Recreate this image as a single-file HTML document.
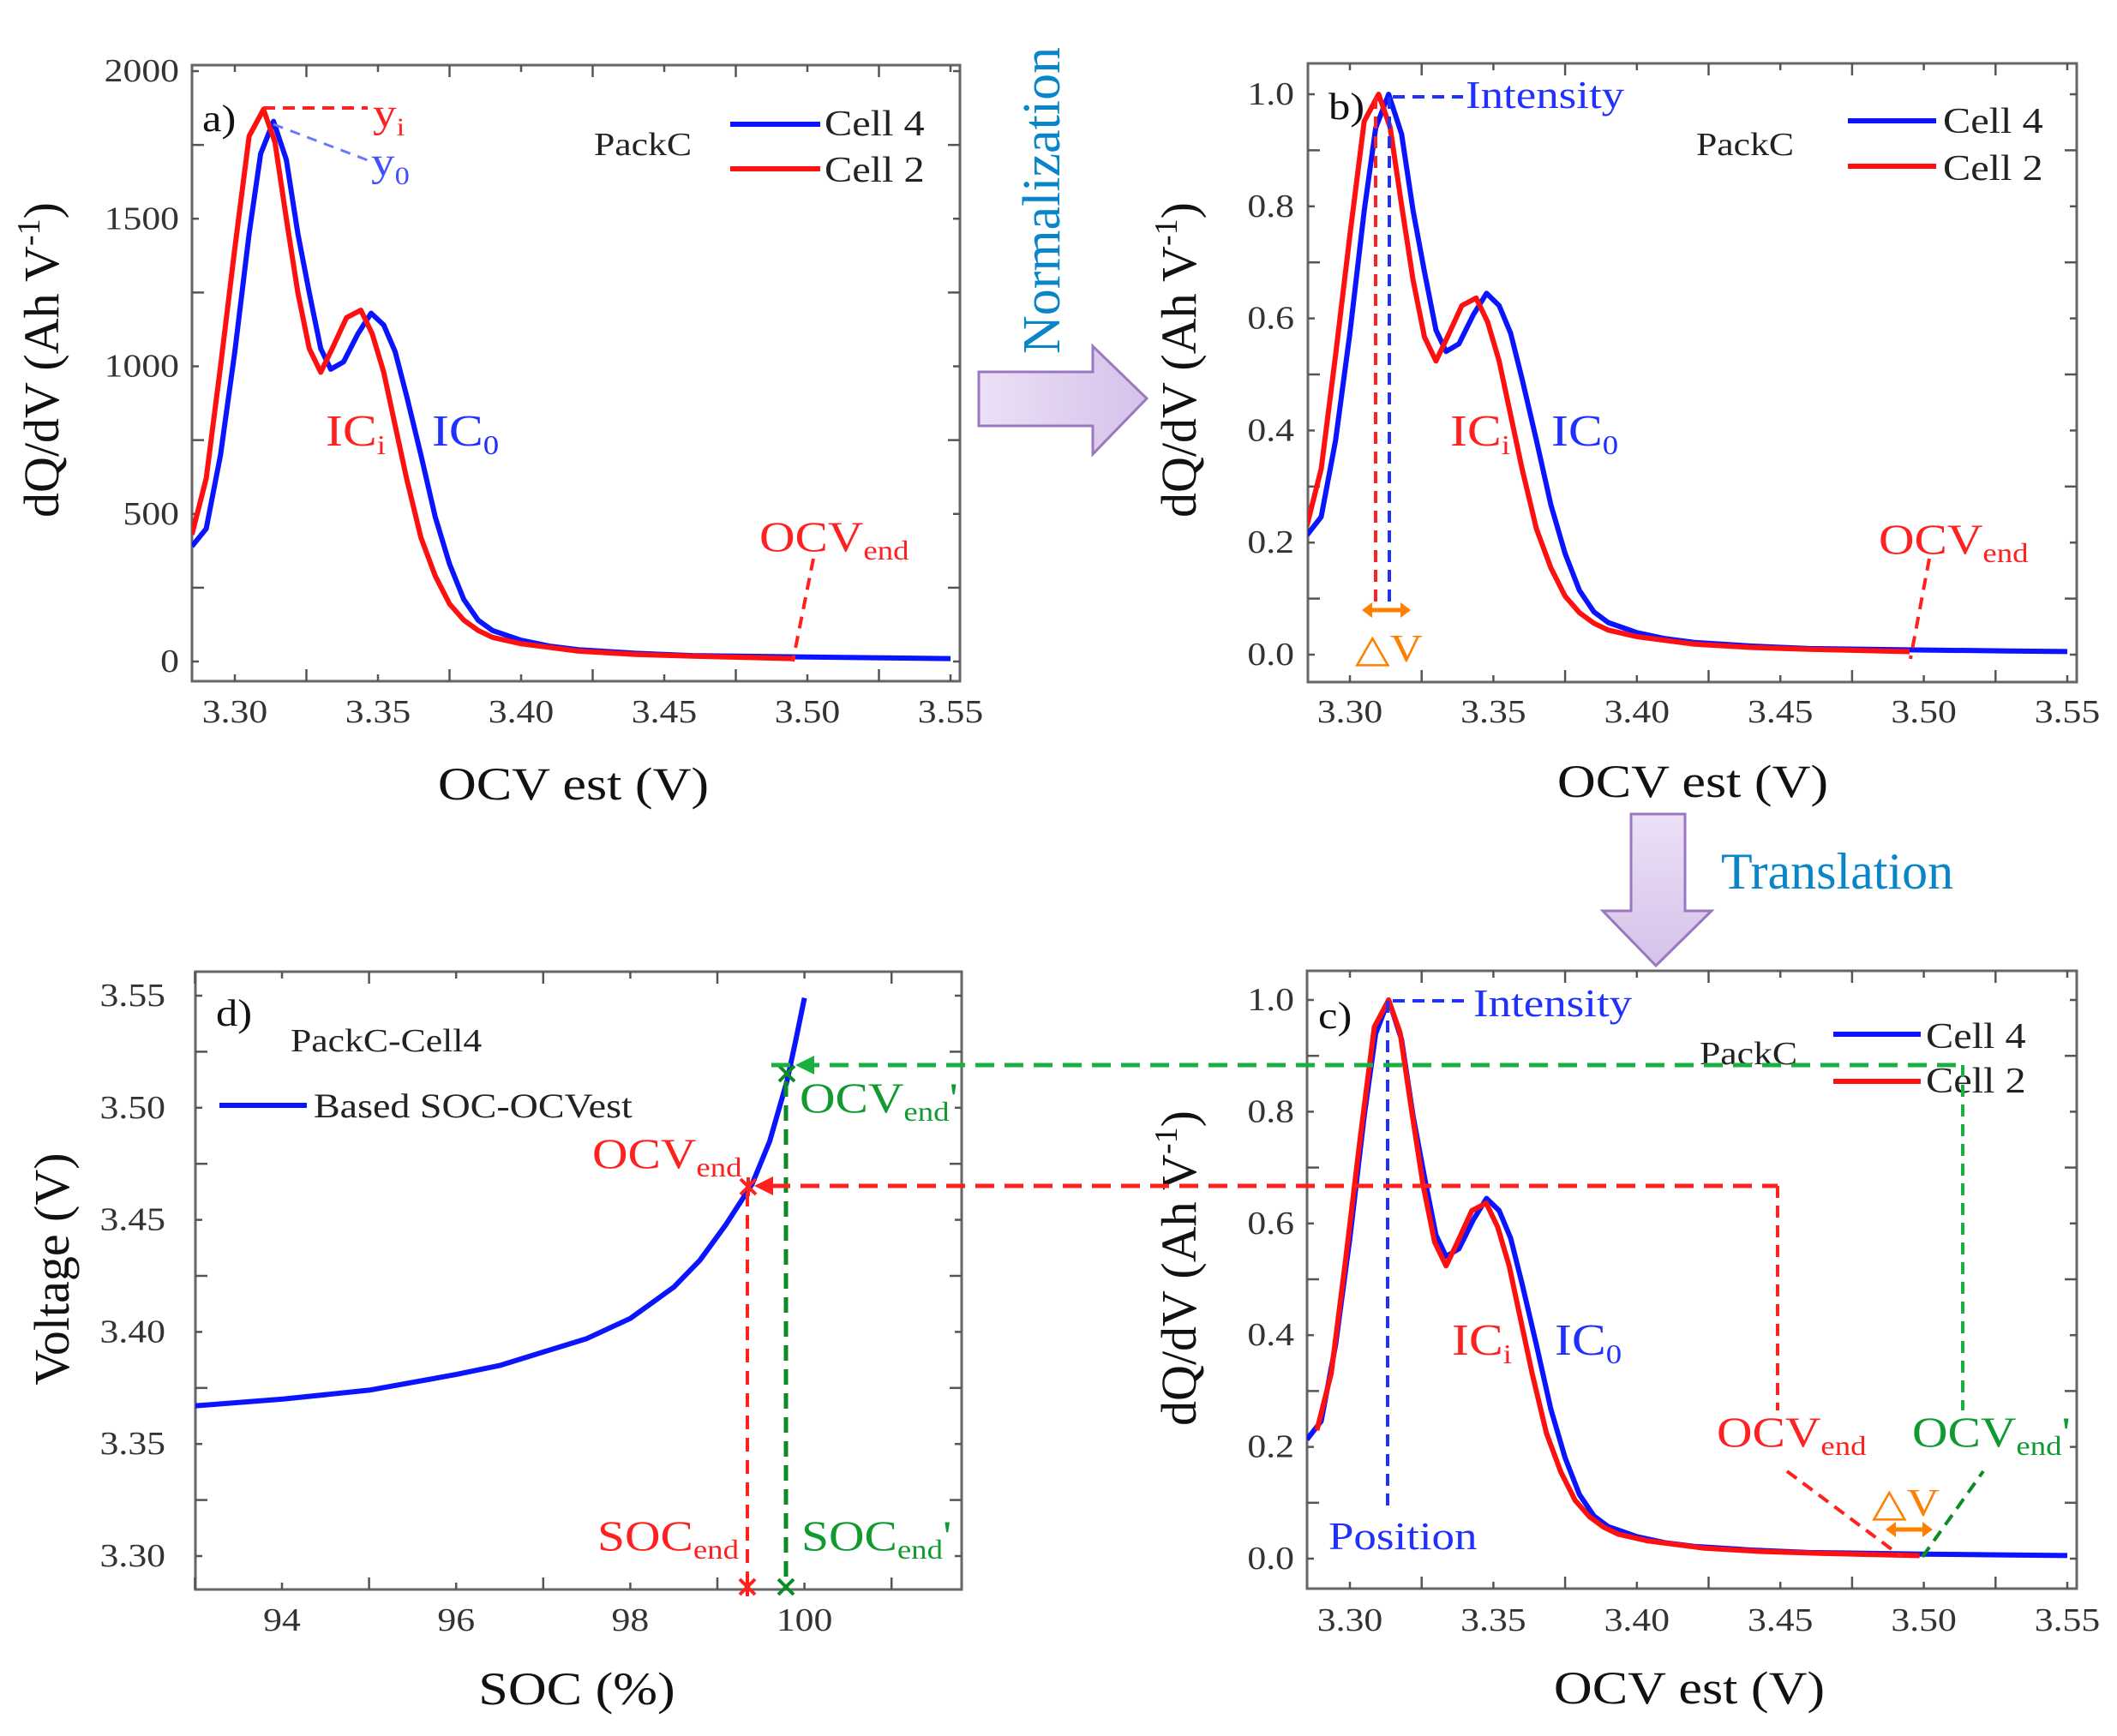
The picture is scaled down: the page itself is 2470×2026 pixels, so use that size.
<!DOCTYPE html>
<html><head><meta charset="utf-8"><style>
html,body{margin:0;padding:0;background:#fff;}
svg{display:block;}
text,tspan{font-family:"Liberation Serif","Times New Roman",serif;}
</style></head><body>
<svg id="s" xmlns="http://www.w3.org/2000/svg" width="2470" height="2026" viewBox="0 0 2470 2026" font-family="Liberation Serif, serif">
<defs>
<linearGradient id="ag" x1="0" y1="0" x2="0" y2="1"><stop offset="0" stop-color="#ece0f6"/><stop offset="1" stop-color="#d6c2ea"/></linearGradient>
<linearGradient id="ag2" x1="0" y1="0" x2="1" y2="0"><stop offset="0" stop-color="#ece0f6"/><stop offset="1" stop-color="#d6c2ea"/></linearGradient>
</defs>
<rect width="2470" height="2026" fill="#fff"/>
<g id="g"></g>
</svg>
<script>
var out=[];
function P(s){out.push(s);}
var SX=1.15;
var FF=' font-family="Liberation Serif, serif"';
function T(x,y,str,size,fill,anchor,opt){opt=opt||{};
  P('<text'+FF+' transform="translate('+x+','+y+') scale('+(opt.sx||SX)+',1)" font-size="'+size+'" fill="'+(fill||'#000')+'" text-anchor="'+(anchor||'start')+'"'+(opt.w?' font-weight="'+opt.w+'"':'')+'>'+str+'</text>');}
function sub(s,sz){return '<tspan font-size="'+sz+'" dy="10">'+s+'</tspan>';}
function L(x1,y1,x2,y2,c,w,d){P('<line x1="'+x1+'" y1="'+y1+'" x2="'+x2+'" y2="'+y2+'" stroke="'+c+'" stroke-width="'+w+'"'+(d?' stroke-dasharray="'+d+'"':'')+'/>');}
function path(pts,c,w,clip){var s='M'+pts.map(function(p){return p[0].toFixed(1)+','+p[1].toFixed(1)}).join('L');
  P('<path d="'+s+'" fill="none" stroke="'+c+'" stroke-width="'+w+'" stroke-linejoin="round"'+(clip?' clip-path="url(#'+clip+')"':'')+'/>');}

var blue=[[3.285,390],[3.29,450],[3.295,700],[3.30,1050],[3.305,1450],[3.309,1720],[3.3135,1830],[3.318,1700],[3.322,1450],[3.326,1250],[3.33,1060],[3.3335,990],[3.338,1015],[3.343,1110],[3.3476,1180],[3.352,1140],[3.356,1050],[3.36,900],[3.365,700],[3.37,490],[3.375,330],[3.38,210],[3.385,140],[3.39,105],[3.40,72],[3.41,52],[3.42,40],[3.44,28],[3.46,20],[3.50,15],[3.53,12],[3.55,10]];
var red=[[3.285,430],[3.29,620],[3.295,1000],[3.30,1400],[3.305,1780],[3.31,1870],[3.314,1760],[3.318,1500],[3.322,1250],[3.326,1060],[3.33,980],[3.334,1060],[3.339,1165],[3.344,1190],[3.348,1110],[3.352,980],[3.356,800],[3.36,620],[3.365,420],[3.37,290],[3.375,195],[3.38,140],[3.385,105],[3.39,82],[3.40,60],[3.42,35],[3.44,24],[3.46,18],[3.495,10]];

function frame(l,t,r,b,id){P('<clipPath id="'+id+'"><rect x="'+l+'" y="'+t+'" width="'+(r-l)+'" height="'+(b-t)+'"/></clipPath>');
  P('<rect x="'+l+'" y="'+t+'" width="'+(r-l)+'" height="'+(b-t)+'" fill="none" stroke="#666" stroke-width="3"/>');}
function xticks(l,t,r,b,fx,v0,v1,step,nminor,labels,lblY){
  for(var v=v0;v<=v1+1e-9;v+=step/nminor){var x=fx(v);if(x<l-1||x>r+1)continue;
    var k=Math.round((v-v0)/(step/nminor));var maj=(k%nminor===0);var len=maj?14:8;
    L(x,b,x,b-len,'#555',2.5);L(x,t,x,t+len,'#555',2.5);}
  labels.forEach(function(a){T(fx(a[0]),lblY,a[1],38,'#333','middle');});}
function yticks(l,t,r,b,fy,v0,v1,step,nminor,labels,lblX){
  for(var v=v0;v<=v1+1e-9;v+=step/nminor){var y=fy(v);if(y<t-1||y>b+1)continue;
    var k=Math.round((v-v0)/(step/nminor));var maj=(k%nminor===0);var len=maj?14:8;
    L(l,y,l+len,y,'#555',2.5);L(r,y,r-len,y,'#555',2.5);}
  labels.forEach(function(a){T(lblX,fy(a[0])+12,a[1],38,'#333','end');});}
function ytitle(x,y,html,size){P('<text'+FF+' transform="translate('+x+','+y+') rotate(-90)" font-size="'+size+'" text-anchor="middle" fill="#111">'+html+'</text>');}
var xl=[[3.30,'3.30'],[3.35,'3.35'],[3.40,'3.40'],[3.45,'3.45'],[3.50,'3.50'],[3.55,'3.55']];
var dqdv='dQ/dV (Ah V<tspan font-size="38" dy="-22">-1</tspan><tspan dy="22">)</tspan>';
var LW=6;

// ---------- Panel a
(function(){
var l=224,t=76,r=1120,b=795;
var fx=function(v){return 274+(v-3.30)/0.05*167;}, fy=function(q){return 772-q*0.3445;};
frame(l,t,r,b,'ca');
xticks(l,t,r,b,fx,3.275,3.575,0.05,2,xl,843);
yticks(l,t,r,b,fy,-250,2250,500,2,[[0,'0'],[500,'500'],[1000,'1000'],[1500,'1500'],[2000,'2000']],209);
path(blue.map(function(p){return [fx(p[0]),fy(p[1])]}),'#0a14ff',LW,'ca');
path(red.map(function(p){return [fx(p[0]),fy(p[1])]}),'#ff1010',LW,'ca');
T(236,153,'a)',44,'#111');
L(307,126,429,126,'#ff2020',4,'14,9');
T(435,148,'y'+sub('i',30),48,'#ff2020');
L(319,145,429,187,'#6a78ff',3,'12,9');
T(433,205,'y'+sub('0',30),48,'#4050ff');
T(693,181,'PackC',38,'#222');
L(852,145,957,145,'#0a14ff',LW);T(962,158,'Cell 4',42,'#222');
L(852,197,957,197,'#ff1010',LW);T(962,212,'Cell 2',42,'#222');
T(380,520,'IC'+sub('i',32),52,'#ff2020');
T(504,520,'IC'+sub('0',32),52,'#2030ff');
T(886,643,'OCV'+sub('end',32),50,'#ff2020');
L(949,652,925,772,'#ff2020',4,'14,9');
T(669,933,'OCV est (V)',54,'#111','middle');
ytitle(68,420,dqdv,58);
})();

// ---------- Panel b
(function(){
var l=1526,t=74,r=2423,b=796;
var fx=function(v){return 1575+(v-3.30)/0.05*167.4;}, fy=function(q){return 764-q*654;};
frame(l,t,r,b,'cb');
xticks(l,t,r,b,fx,3.275,3.575,0.05,2,xl,843);
yticks(l,t,r,b,fy,-0.1,1.1,0.2,2,[[0,'0.0'],[0.2,'0.2'],[0.4,'0.4'],[0.6,'0.6'],[0.8,'0.8'],[1.0,'1.0']],1510);
path(blue.map(function(p){return [fx(p[0]),fy(p[1]/1830)]}),'#0a14ff',LW,'cb');
path(red.map(function(p){return [fx(p[0]),fy(p[1]/1870)]}),'#ff1010',LW,'cb');
T(1550,139,'b)',44,'#111');
L(1625,113,1707,113,'#2030ff',4,'14,9');
T(1710,126,'Intensity',46,'#2030ff');
L(1605,113,1605,704,'#ff2020',4,'14,9');
L(1621,113,1621,704,'#2030ff',4,'14,9');
L(1596,712,1638,712,'#ff8000',5);
P('<path d="M1589,712 l12,-9 v18 z M1646,712 l-12,-9 v18 z" fill="#ff8000"/>');
T(1581,772,'△V',46,'#ff8000');
T(1979,181,'PackC',38,'#222');
L(2156,141,2259,141,'#0a14ff',LW);T(2267,155,'Cell 4',42,'#222');
L(2156,194,2259,194,'#ff1010',LW);T(2267,210,'Cell 2',42,'#222');
T(1692,520,'IC'+sub('i',32),52,'#ff2020');
T(1810,520,'IC'+sub('0',32),52,'#2030ff');
T(2192,646,'OCV'+sub('end',32),50,'#ff2020');
L(2251,652,2229,769,'#ff2020',4,'14,9');
T(1975,930,'OCV est (V)',54,'#111','middle');
ytitle(1395,420,dqdv,58);
})();

// ---------- Panel c
(function(){
var l=1525,t=1133,r=2423,b=1854;
var fx=function(v){return 1575+(v-3.30)/0.05*167.4;}, fy=function(q){return 1819-q*652;};
frame(l,t,r,b,'cc');
xticks(l,t,r,b,fx,3.275,3.575,0.05,2,xl,1903);
yticks(l,t,r,b,fy,-0.1,1.1,0.2,2,[[0,'0.0'],[0.2,'0.2'],[0.4,'0.4'],[0.6,'0.6'],[0.8,'0.8'],[1.0,'1.0']],1510);
path(blue.map(function(p){return [fx(p[0]),fy(p[1]/1830)]}),'#0a14ff',LW,'cc');
path(red.map(function(p){return [fx(p[0]+0.0035),fy(p[1]/1870)]}),'#ff1010',LW,'cc');
T(1538,1200,'c)',44,'#111');
L(1625,1168,1715,1168,'#2030ff',4,'14,9');
T(1719,1186,'Intensity',46,'#2030ff');
L(1619,1168,1619,1759,'#2030ff',4,'14,9');
T(1550,1808,'Position',46,'#2030ff');
T(1983,1242,'PackC',38,'#222');
L(2139,1207,2241,1207,'#0a14ff',LW);T(2247,1223,'Cell 4',42,'#222');
L(2139,1262,2241,1262,'#ff1010',LW);T(2247,1275,'Cell 2',42,'#222');
T(1694,1581,'IC'+sub('i',32),52,'#ff2020');
T(1814,1581,'IC'+sub('0',32),52,'#2030ff');
T(2003,1688,'OCV'+sub('end',32),50,'#ff2020');
T(2231,1688,"OCV"+sub('end',32)+"<tspan dy='-10'>'</tspan>",50,'#109a30');
L(2085,1717,2219,1817,'#ff2020',4,'14,9');
L(2243,1817,2314,1717,'#0b8c23',4,'14,9');
L(2207,1785,2248,1785,'#ff8000',5);
P('<path d="M2200,1785 l12,-9 v18 z M2255,1785 l-12,-9 v18 z" fill="#ff8000"/>');
T(2184,1769,'△V',46,'#ff8000');
T(1971,1988,'OCV est (V)',54,'#111','middle');
ytitle(1395,1480,dqdv,58);
})();

// ---------- Panel d
(function(){
var l=228,t=1134,r=1122,b=1855;
var fx=function(s){return 329+(s-94)*101.6;}, fy=function(v){return 1816-(v-3.30)/0.05*130.8;};
frame(l,t,r,b,'cd');
xticks(l,t,r,b,fx,93,102,2,2,[[94,'94'],[96,'96'],[98,'98'],[100,'100']],1903);
yticks(l,t,r,b,fy,3.275,3.575,0.05,2,[[3.30,'3.30'],[3.35,'3.35'],[3.40,'3.40'],[3.45,'3.45'],[3.50,'3.50'],[3.55,'3.55']],193);
var d=[[93,3.367],[94,3.370],[95,3.374],[96,3.381],[96.5,3.385],[97,3.391],[97.5,3.397],[98,3.406],[98.5,3.420],[98.8,3.432],[99.1,3.448],[99.4,3.466],[99.6,3.485],[99.8,3.512],[99.9,3.530],[100,3.549]];
path(d.map(function(p){return [fx(p[0]),fy(p[1])]}),'#0a14ff',LW,'cd');
T(252,1197,'d)',44,'#111');
T(339,1227,'PackC-Cell4',38,'#222');
L(256,1290,358,1290,'#0a14ff',LW);T(366,1304,'Based SOC-OCVest',40,'#222');
T(691,1363,'OCV'+sub('end',32),50,'#ff2020');
T(933,1298,"OCV"+sub('end',32)+"<tspan dy='-10'>'</tspan>",50,'#109a30');
T(697,1809,'SOC'+sub('end',32),50,'#ff2020');
T(935,1809,"SOC"+sub('end',32)+"<tspan dy='-10'>'</tspan>",50,'#109a30');
L(872,1392,872,1855,'#ff2020',4,'16,10');
L(917,1262,917,1855,'#0b8c23',5,'18,10');
T(673,1989,'SOC (%)',54,'#111','middle');
ytitle(80,1481,'Voltage (V)',58);
function star(x,y,c){L(x-9,y-9,x+9,y+9,c,4);L(x-9,y+9,x+9,y-9,c,4);L(x,y-11,x,y+11,c,4);}
function cross(x,y,c){L(x-9,y-9,x+9,y+9,c,4);L(x-9,y+9,x+9,y-9,c,4);}
star(873,1385,'#ff2020');star(872,1852,'#ff2020');
cross(918,1253,'#0b8c23');cross(917,1852,'#0b8c23');
})();

// connecting dashed lines
L(900,1243,2290,1243,'#18b040',5,'22,12');
L(2290,1243,2290,1646,'#18b040',4,'14,9');
P('<path d="M928,1243 l22,-11 v22 z" fill="#18b040"/>');
L(900,1384,2074,1384,'#ff2020',5,'22,12');
L(2074,1384,2074,1646,'#ff2020',4,'14,9');
P('<path d="M880,1384 l22,-11 v22 z" fill="#ff2020"/>');

// arrows
P('<path d="M1142,434 H1275 V404 L1338,465 L1275,530 V497 H1142 Z" fill="url(#ag2)" stroke="#9a78c0" stroke-width="3"/>');
P('<text'+FF+' transform="translate(1236,413) rotate(-90)" font-size="62" fill="#0a86c8" text-anchor="start">Normalization</text>');
P('<path d="M1903,950 H1966 V1063 H1997 L1932,1127 L1870,1063 H1903 Z" fill="url(#ag)" stroke="#9a78c0" stroke-width="3"/>');
T(2008,1037,'Translation',60,'#0a86c8','start',{sx:1.0});

document.getElementById('g').innerHTML=out.join('');
</script>
</body></html>
